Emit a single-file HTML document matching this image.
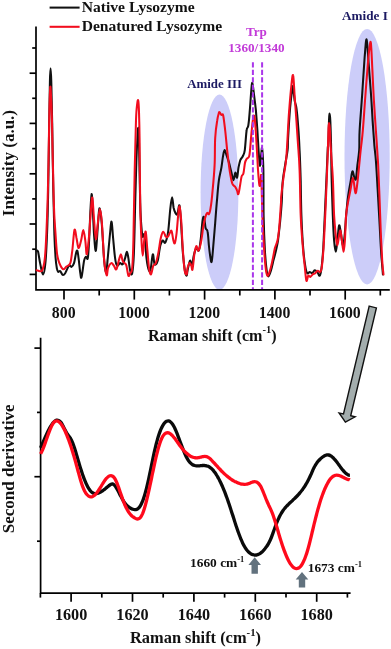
<!DOCTYPE html>
<html><head><meta charset="utf-8"><title>Raman spectra of lysozyme</title>
<style>
html,body{margin:0;padding:0;background:#fff;}
body{width:391px;height:649px;overflow:hidden;}
svg{display:block;font-family:"Liberation Serif",serif;font-weight:bold;}
.ax line,.ax path{stroke:#000;stroke-width:1.7;fill:none;}
.tl{font-size:15.8px;fill:#111;}
.at{font-size:16px;fill:#111;}
.lg{font-size:15.6px;fill:#111;}
.an{font-size:13.2px;}
.cv{fill:none;stroke-linejoin:round;stroke-linecap:round;}
</style></head>
<body>
<svg width="391" height="649" viewBox="0 0 391 649">
<rect width="391" height="649" fill="#fff"/>
<!-- highlight ellipses -->
<ellipse cx="219.5" cy="192.2" rx="18.9" ry="97.6" fill="#cccdf9"/>
<ellipse cx="367.1" cy="156.7" rx="22.6" ry="127.8" fill="#cccdf9"/>
<!-- top chart axes -->
<g class="ax">
<path d="M36 26.4V289.8H389.8"/>
<line x1="64.0" y1="289.8" x2="64.0" y2="299.6"/><line x1="99.2" y1="289.8" x2="99.2" y2="295.5"/><line x1="134.3" y1="289.8" x2="134.3" y2="299.6"/><line x1="169.4" y1="289.8" x2="169.4" y2="295.5"/><line x1="204.6" y1="289.8" x2="204.6" y2="299.6"/><line x1="239.8" y1="289.8" x2="239.8" y2="295.5"/><line x1="274.9" y1="289.8" x2="274.9" y2="299.6"/><line x1="310.0" y1="289.8" x2="310.0" y2="295.5"/><line x1="345.2" y1="289.8" x2="345.2" y2="299.6"/><line x1="380.3" y1="289.8" x2="380.3" y2="295.5"/><line x1="32.2" y1="48.0" x2="36" y2="48.0"/><line x1="29.6" y1="73.2" x2="36" y2="73.2"/><line x1="32.2" y1="98.3" x2="36" y2="98.3"/><line x1="29.6" y1="123.4" x2="36" y2="123.4"/><line x1="32.2" y1="148.6" x2="36" y2="148.6"/><line x1="29.6" y1="173.8" x2="36" y2="173.8"/><line x1="32.2" y1="198.9" x2="36" y2="198.9"/><line x1="29.6" y1="224.0" x2="36" y2="224.0"/><line x1="32.2" y1="249.2" x2="36" y2="249.2"/><line x1="29.6" y1="274.4" x2="36" y2="274.4"/>
</g>
<!-- top curves -->
<path class="cv" d="M36.6 250.6C36.8 250.8 37.5 249.7 38.1 251.8C38.7 253.9 39.3 259.3 40.1 263.1C40.9 266.9 42.2 274.6 43.1 274.4C44.0 274.2 44.9 268.6 45.5 262.0C46.1 255.4 46.5 247.0 47.0 235.0C47.5 223.0 47.9 207.5 48.2 190.0C48.6 172.5 48.8 148.0 49.1 130.0C49.4 112.0 49.6 92.3 49.9 82.0C50.1 71.7 50.4 68.3 50.6 68.3C50.8 68.3 51.0 71.7 51.3 82.0C51.6 92.3 52.0 112.0 52.3 130.0C52.6 148.0 52.9 172.5 53.3 190.0C53.6 207.5 54.0 223.7 54.4 235.0C54.8 246.3 55.2 252.4 55.6 258.0C56.0 263.6 56.5 266.3 56.9 268.6C57.4 271.0 57.6 271.5 58.2 271.9C58.7 272.3 59.4 270.7 60.2 271.2C61.0 271.7 61.9 274.6 62.7 274.9C63.6 275.3 64.2 274.7 65.2 273.2C66.3 271.6 67.9 266.7 69.0 265.6C70.0 264.6 70.7 267.3 71.5 266.9C72.3 266.5 73.1 265.8 74.0 263.1C75.0 260.4 76.2 248.9 77.3 250.6C78.3 252.2 79.6 268.8 80.3 273.2C81.0 277.6 80.9 279.0 81.6 276.9C82.2 274.8 83.4 264.0 84.1 260.6C84.8 257.3 85.2 257.3 85.8 256.8C86.5 256.4 87.3 260.8 87.8 258.1C88.4 255.4 88.5 251.2 89.1 240.5C89.7 229.8 90.8 194.9 91.6 194.0C92.4 193.2 93.4 226.1 94.1 235.5C94.8 244.9 95.3 252.2 95.9 250.6C96.5 248.9 97.3 232.5 97.9 225.4C98.5 218.4 98.8 208.8 99.4 208.3C100.0 207.9 100.9 214.2 101.7 222.9C102.5 231.6 103.4 252.2 104.2 260.6C104.9 269.0 105.6 273.2 106.2 273.2C106.7 273.2 106.9 267.3 107.5 260.6C108.2 253.9 109.4 239.5 110.1 233.0C110.7 226.5 111.1 220.8 111.6 221.7C112.1 222.5 112.5 231.9 113.1 238.0C113.7 244.1 114.4 253.5 115.1 258.1C115.7 262.7 116.2 264.8 117.1 265.6C117.9 266.5 119.2 263.3 120.1 263.1C121.0 262.9 121.8 265.2 122.6 264.4C123.5 263.5 124.4 260.2 125.1 258.1C125.8 256.0 126.3 251.8 126.9 251.8C127.4 251.8 127.8 254.9 128.4 258.1C128.9 261.2 129.5 268.1 130.2 270.7C130.8 273.2 131.5 276.1 132.2 273.2C132.8 270.2 133.4 264.8 133.9 253.1C134.4 241.3 134.8 218.3 135.2 202.8C135.6 187.3 136.0 171.4 136.4 160.1C136.8 148.8 137.3 140.4 137.6 135.0C137.9 129.6 138.0 127.7 138.2 128.0C138.4 128.3 138.6 124.5 138.9 137.0C139.2 149.5 139.8 187.7 140.2 202.8C140.6 218.0 141.0 222.3 141.5 227.9C141.9 233.6 142.3 235.7 142.7 236.7C143.1 237.8 143.6 233.6 144.0 234.2C144.4 234.8 144.8 236.5 145.2 240.5C145.6 244.5 145.9 253.1 146.5 258.1C147.1 263.1 148.3 269.0 149.0 270.7C149.7 272.3 150.1 270.9 150.8 268.1C151.4 265.4 152.2 255.2 152.8 254.3C153.4 253.5 153.8 261.4 154.3 263.1C154.8 264.8 155.2 264.8 155.8 264.4C156.4 264.0 157.0 263.7 157.8 260.6C158.5 257.5 159.5 248.9 160.3 245.5C161.1 242.2 162.1 240.9 162.8 240.5C163.6 240.1 164.2 243.2 164.8 243.0C165.5 242.8 166.0 241.3 166.6 239.2C167.2 237.2 167.7 235.7 168.3 230.5C169.0 225.2 169.7 213.4 170.4 207.8C171.0 202.3 171.6 197.3 172.1 197.3C172.7 197.3 173.1 205.2 173.6 207.8C174.2 210.4 174.7 211.8 175.4 212.9C176.0 213.9 176.7 215.4 177.4 214.1C178.1 212.9 178.8 204.3 179.4 205.3C180.0 206.4 180.3 212.4 180.9 220.4C181.5 228.4 182.2 244.7 182.9 253.1C183.6 261.4 184.3 266.9 184.9 270.7C185.6 274.4 186.3 275.7 186.7 275.7C187.1 275.7 187.0 273.2 187.5 270.7C188.1 268.1 189.3 261.4 190.0 260.6C190.8 259.8 191.4 266.5 192.0 265.6C192.7 264.8 193.1 258.5 193.8 255.6C194.5 252.6 195.5 248.9 196.3 248.0C197.1 247.2 198.1 251.8 198.8 250.6C199.5 249.3 199.9 245.5 200.6 240.5C201.2 235.5 202.0 224.3 202.6 220.4C203.2 216.5 203.6 216.1 204.1 217.4C204.6 218.6 205.0 225.6 205.6 227.9C206.2 230.3 207.1 228.8 207.6 231.7C208.2 234.6 208.5 241.5 208.9 245.5C209.3 249.5 209.7 252.9 210.1 255.6C210.6 258.3 211.1 263.1 211.6 261.9C212.1 260.6 212.6 254.5 213.1 248.0C213.7 241.5 214.5 231.3 215.2 222.9C215.8 214.5 216.5 204.9 217.2 197.8C217.8 190.7 218.2 185.2 218.9 180.2C219.6 175.2 220.7 171.8 221.4 167.6C222.1 163.5 222.6 158.0 223.2 155.1C223.7 152.1 224.2 150.1 224.7 150.1C225.2 150.1 225.7 153.0 226.5 155.1C227.2 157.2 228.1 159.7 229.0 162.6C229.8 165.5 230.7 169.7 231.5 172.7C232.2 175.6 232.9 180.2 233.5 180.2C234.1 180.2 234.7 173.1 235.3 172.7C235.8 172.2 236.5 178.5 237.0 177.7C237.6 176.9 238.0 170.6 238.5 167.6C239.1 164.7 239.6 162.0 240.3 160.1C241.0 158.2 242.0 158.0 242.8 156.3C243.5 154.7 244.2 154.4 244.8 150.1C245.4 145.7 246.0 134.6 246.6 130.5C247.1 126.4 247.8 128.8 248.3 125.5C248.9 122.1 249.4 115.8 249.8 110.4C250.3 105.0 250.7 97.4 251.1 92.8C251.5 88.2 251.8 82.3 252.3 82.8C252.8 83.2 253.5 90.7 254.1 95.3C254.7 99.9 255.3 104.5 255.9 110.4C256.4 116.3 256.9 123.8 257.4 130.5C257.8 137.2 258.2 144.7 258.6 150.6C259.0 156.5 259.5 164.8 259.9 165.7C260.3 166.5 260.8 158.6 261.1 155.6C261.5 152.7 261.8 145.6 262.1 148.1C262.5 150.6 263.1 159.5 263.4 170.7C263.6 181.9 263.4 202.1 263.6 215.4C263.9 228.7 264.4 241.3 264.9 250.6C265.4 259.8 266.1 266.3 266.7 270.7C267.2 275.0 267.7 276.4 268.4 276.4C269.1 276.4 270.1 273.3 270.9 270.7C271.8 268.0 272.6 264.0 273.4 260.6C274.3 257.3 275.2 253.9 276.0 250.6C276.7 247.2 277.3 245.1 278.0 240.5C278.6 235.9 279.3 229.2 280.0 222.9C280.6 216.6 281.3 209.5 281.7 202.8C282.2 196.1 282.0 189.0 282.6 182.7C283.1 176.4 284.2 170.6 285.1 165.1C285.9 159.7 287.1 154.6 287.6 150.1C288.1 145.5 287.7 145.1 288.1 138.1C288.5 131.1 289.4 115.9 290.1 107.9C290.8 100.0 291.6 93.9 292.1 90.4C292.6 86.8 292.7 84.9 293.1 86.6C293.5 88.3 294.1 96.8 294.6 100.4C295.2 104.0 295.8 103.8 296.4 107.9C297.0 112.1 297.6 118.4 298.1 125.5C298.7 132.6 299.2 141.4 299.6 150.7C300.1 159.9 300.4 170.0 300.7 180.8C300.9 191.6 301.0 204.2 301.4 215.4C301.8 226.6 302.5 239.7 303.2 248.0C303.8 256.4 304.5 261.4 305.2 265.6C305.8 269.8 306.4 272.1 307.2 273.2C307.9 274.2 308.9 271.9 309.7 271.9C310.5 271.9 311.4 273.5 312.2 273.2C313.0 272.9 313.9 270.4 314.7 270.2C315.6 269.9 316.4 271.0 317.2 271.9C318.1 272.8 319.0 276.3 319.7 275.7C320.5 275.1 320.9 272.7 321.5 268.1C322.1 263.5 322.7 256.8 323.3 248.0C323.8 239.2 324.2 227.1 324.8 215.4C325.3 203.7 326.0 189.0 326.5 177.7C327.0 166.4 327.5 152.9 327.8 147.5C328.1 142.2 328.1 150.1 328.3 145.6C328.5 141.1 328.8 125.9 329.0 120.5C329.3 115.1 329.3 113.5 329.5 113.5C329.8 113.5 330.1 115.1 330.3 120.5C330.6 125.9 330.8 136.1 331.1 145.6C331.3 155.2 331.3 166.1 331.6 177.7C331.9 189.3 332.4 204.9 332.8 215.4C333.2 225.8 333.6 234.4 334.1 240.5C334.6 246.6 335.3 251.8 335.8 251.8C336.4 251.8 336.8 244.9 337.3 240.5C337.9 236.1 338.5 226.7 339.1 225.4C339.7 224.2 340.2 229.6 340.9 233.0C341.5 236.3 342.2 245.1 342.9 245.5C343.5 245.9 344.1 240.5 344.6 235.5C345.2 230.5 345.6 221.7 346.1 215.4C346.7 209.1 347.2 203.2 347.9 197.8C348.6 192.3 349.6 187.1 350.4 182.7C351.2 178.3 351.7 172.2 352.4 171.4C353.1 170.6 353.8 176.4 354.4 177.7C355.0 178.9 355.4 181.0 355.9 178.9C356.4 176.9 356.9 169.9 357.4 165.1C358.0 160.3 358.8 155.8 359.2 150.1C359.6 144.3 359.1 139.7 359.6 130.7C360.1 121.6 361.3 107.6 362.1 95.5C362.9 83.3 363.9 67.1 364.6 57.8C365.4 48.5 365.9 38.6 366.6 39.4C367.3 40.3 367.9 53.9 368.6 62.8C369.3 71.7 370.2 83.3 370.9 93.0C371.6 102.6 372.1 111.8 372.6 120.6C373.2 129.4 373.9 139.0 374.4 145.7C375.0 152.4 375.4 153.4 375.9 160.8C376.5 168.2 377.1 180.3 377.7 190.3C378.3 200.2 378.8 209.9 379.4 220.4C380.0 230.9 380.6 244.1 381.2 253.1C381.8 262.1 382.7 270.9 382.9 274.4" stroke="#111" stroke-width="2.05"/>
<path class="cv" d="M36.6 270.2C37.2 270.3 39.1 271.3 40.1 271.2C41.1 271.0 41.8 272.0 42.6 269.4C43.5 266.8 44.4 264.6 45.1 255.6C45.9 246.6 46.7 226.3 47.1 215.4C47.6 204.4 47.6 200.9 47.9 190.0C48.2 179.1 48.5 163.3 48.7 150.0C49.0 136.7 49.1 120.5 49.4 110.0C49.7 99.5 50.0 88.0 50.3 86.7C50.6 85.4 51.0 96.1 51.3 102.0C51.6 107.9 51.8 112.3 52.0 122.0C52.2 131.7 52.5 147.8 52.8 160.0C53.1 172.2 53.4 185.8 53.6 195.0C53.9 204.2 54.0 208.3 54.3 215.0C54.6 221.7 55.2 228.9 55.6 235.0C56.0 241.1 56.4 247.4 56.8 251.5C57.2 255.6 57.6 257.2 58.2 259.5C58.8 261.8 59.4 263.6 60.3 265.2C61.1 266.8 62.3 269.1 63.3 269.3C64.3 269.5 65.3 267.5 66.5 266.5C67.7 265.5 69.3 265.8 70.3 263.1C71.2 260.5 71.5 256.1 72.3 250.6C73.0 245.0 73.8 232.0 74.5 229.9C75.2 227.9 75.9 235.0 76.5 238.0C77.2 241.0 77.8 247.6 78.5 248.0C79.3 248.5 80.3 243.5 81.1 240.5C81.9 237.5 82.6 229.9 83.3 229.9C84.0 229.9 84.7 236.4 85.3 240.5C85.9 244.6 86.2 255.2 86.8 254.3C87.5 253.5 88.4 242.8 89.1 235.5C89.8 228.1 90.3 216.6 90.9 210.4C91.4 204.1 91.8 196.1 92.4 197.8C92.9 199.5 93.5 213.5 94.1 220.4C94.7 227.3 95.3 238.8 95.9 239.2C96.5 239.7 97.2 227.9 97.9 222.9C98.6 217.9 99.2 209.1 99.9 209.1C100.6 209.1 101.2 214.3 101.9 222.9C102.6 231.5 103.4 251.9 104.2 260.6C105.0 269.3 106.0 273.9 106.7 275.2C107.3 276.4 107.3 270.2 108.0 268.1C108.8 266.1 110.3 263.5 111.3 263.1C112.3 262.7 113.0 264.6 113.8 265.6C114.7 266.7 115.5 270.2 116.3 269.4C117.2 268.6 118.1 263.1 118.8 260.6C119.6 258.1 120.2 254.3 120.9 254.3C121.5 254.3 122.0 259.1 122.6 260.6C123.2 262.1 124.0 262.3 124.6 263.1C125.3 264.0 125.8 263.5 126.4 265.6C127.0 267.7 127.8 274.4 128.4 275.7C129.0 276.9 129.5 274.4 130.2 273.2C130.8 271.9 131.6 273.6 132.2 268.1C132.7 262.7 133.0 256.8 133.4 240.5C133.8 224.2 134.2 190.2 134.7 170.2C135.1 150.1 135.6 131.0 136.0 120.0C136.4 109.0 136.8 107.2 137.2 104.0C137.6 100.8 137.9 99.2 138.2 100.5C138.5 101.8 138.8 105.4 139.0 112.0C139.2 118.6 139.4 124.9 139.6 140.0C139.8 155.1 139.9 186.1 140.2 202.8C140.5 219.6 141.0 231.7 141.5 240.5C141.9 249.3 142.3 255.6 142.7 255.6C143.2 255.6 143.7 244.5 144.2 240.5C144.7 236.5 145.2 230.5 145.7 231.7C146.2 233.0 146.7 242.0 147.2 248.0C147.8 254.1 148.4 263.7 149.0 268.1C149.6 272.5 150.3 274.8 151.0 274.4C151.7 274.0 152.5 267.5 153.3 265.6C154.1 263.7 154.9 265.2 155.8 263.1C156.6 261.0 157.5 257.3 158.3 253.1C159.1 248.9 160.0 241.5 160.8 238.0C161.6 234.4 162.5 231.9 163.3 231.7C164.2 231.5 165.1 235.9 165.8 236.7C166.6 237.6 167.2 237.4 167.8 236.7C168.5 236.1 169.2 233.9 169.8 233.0C170.5 232.0 171.0 229.7 171.6 231.0C172.2 232.2 172.8 238.5 173.4 240.5C173.9 242.5 174.3 244.3 174.9 243.0C175.4 241.8 176.0 238.0 176.6 233.0C177.2 227.9 177.9 217.3 178.4 212.9C178.9 208.5 179.2 205.3 179.6 206.6C180.1 207.8 180.6 213.1 181.2 220.4C181.7 227.7 182.3 242.2 182.9 250.6C183.5 258.9 184.0 266.7 184.7 270.7C185.3 274.6 186.2 274.8 186.7 274.4C187.2 274.0 187.0 270.0 187.5 268.1C188.0 266.3 188.9 263.5 189.5 263.1C190.2 262.7 190.8 264.6 191.3 265.6C191.8 266.7 192.0 271.5 192.5 269.4C193.1 267.3 193.9 257.0 194.5 253.1C195.2 249.2 195.7 246.4 196.3 246.0C196.9 245.6 197.5 250.2 198.1 250.6C198.6 250.9 199.0 249.7 199.6 248.0C200.1 246.4 200.7 243.9 201.3 240.5C201.9 237.2 202.5 231.7 203.1 227.9C203.7 224.2 204.4 220.4 205.1 217.9C205.8 215.4 206.5 213.5 207.1 212.9C207.7 212.2 208.3 215.0 208.9 214.1C209.5 213.3 210.0 211.8 210.6 207.8C211.3 203.9 212.0 197.4 212.6 190.3C213.3 183.1 214.2 173.8 214.6 165.1C215.1 156.4 214.7 145.5 215.2 138.0C215.6 130.6 216.5 124.6 217.2 120.5C217.8 116.3 218.5 114.3 218.9 112.9C219.3 111.6 219.3 112.1 219.7 112.4C220.1 112.7 220.8 114.4 221.4 114.9C222.0 115.4 222.6 112.8 223.2 115.4C223.8 118.0 224.5 124.6 225.2 130.5C225.9 136.4 226.5 143.9 227.2 150.6C228.0 157.3 228.9 165.3 229.7 170.7C230.6 176.1 231.3 180.5 232.2 183.3C233.2 186.0 234.5 185.9 235.3 187.0C236.0 188.2 236.5 189.1 237.0 190.3C237.5 191.4 237.8 194.8 238.3 194.2C238.8 193.6 239.4 189.3 239.9 186.4C240.4 183.5 241.0 178.7 241.6 176.5C242.2 174.3 242.8 175.7 243.4 173.5C244.0 171.3 244.4 165.6 244.9 163.2C245.4 160.8 245.9 160.1 246.6 159.0C247.3 157.9 248.5 158.3 249.1 156.5C249.7 154.7 249.8 152.3 250.2 148.2C250.6 144.0 251.1 136.3 251.6 131.6C252.1 126.9 252.5 122.6 252.9 119.9C253.3 117.2 253.7 115.0 254.1 115.6C254.5 116.2 254.8 118.4 255.2 123.3C255.6 128.2 256.2 137.4 256.6 144.9C257.1 152.4 257.5 161.7 257.9 168.1C258.3 174.5 258.8 180.1 259.1 183.1C259.4 186.1 259.6 186.3 259.9 185.8C260.2 185.3 260.5 181.5 260.7 180.0C260.9 178.5 261.0 171.1 261.3 177.0C261.6 182.9 262.0 204.8 262.4 215.4C262.8 226.0 263.1 232.1 263.6 240.5C264.1 248.9 264.8 259.8 265.4 265.6C266.0 271.5 266.7 274.8 267.4 275.7C268.2 276.5 269.1 273.2 269.9 270.7C270.8 268.1 271.6 264.4 272.4 260.6C273.3 256.8 274.1 251.4 274.9 248.0C275.8 244.7 276.8 243.9 277.5 240.5C278.2 237.2 278.6 234.2 279.2 227.9C279.8 221.7 280.6 208.3 281.0 202.8C281.3 197.4 280.8 199.9 281.3 195.3C281.8 190.7 283.0 181.5 283.8 175.2C284.7 168.9 285.5 167.5 286.3 157.6C287.2 147.6 288.0 127.5 288.8 115.5C289.7 103.4 290.6 92.0 291.4 85.3C292.1 78.6 292.6 73.6 293.1 75.3C293.7 77.0 294.1 87.8 294.6 95.4C295.2 102.9 295.8 112.1 296.4 120.5C297.0 128.9 297.6 137.3 298.1 145.6C298.7 154.0 299.2 159.1 299.6 170.8C300.1 182.4 300.2 202.9 300.7 215.4C301.2 227.8 302.0 237.2 302.7 245.5C303.3 253.9 304.0 259.8 304.7 265.6C305.3 271.5 305.8 279.0 306.4 280.7C307.0 282.4 307.6 276.3 308.2 275.7C308.8 275.1 309.4 277.1 310.2 276.9C311.0 276.7 311.9 275.1 312.7 274.4C313.6 273.8 314.4 273.8 315.2 273.2C316.1 272.5 316.9 270.9 317.7 270.7C318.6 270.4 319.5 272.7 320.3 271.9C321.0 271.1 321.4 270.9 322.0 265.6C322.6 260.4 323.4 251.0 324.0 240.5C324.6 230.0 325.2 215.4 325.8 202.8C326.3 190.3 326.9 174.7 327.3 165.1C327.7 155.6 327.8 151.8 328.0 145.6C328.2 139.4 328.4 131.8 328.5 128.0C328.7 124.3 328.8 123.0 329.0 123.0C329.3 123.0 329.5 124.3 329.8 128.0C330.1 131.8 330.1 137.4 330.6 145.6C331.1 153.9 332.2 166.1 332.8 177.7C333.4 189.3 333.6 205.7 334.1 215.4C334.6 225.0 335.3 230.5 335.8 235.5C336.4 240.5 336.8 245.5 337.3 245.5C337.9 245.5 338.6 238.0 339.1 235.5C339.6 233.0 339.9 229.6 340.4 230.5C340.8 231.3 341.3 236.9 341.9 240.5C342.4 244.1 343.1 251.8 343.6 251.8C344.1 251.8 344.5 246.6 344.9 240.5C345.3 234.4 345.6 221.7 346.1 215.4C346.6 209.1 347.2 207.0 347.9 202.8C348.6 198.6 349.6 194.4 350.4 190.3C351.2 186.1 352.2 177.7 352.9 177.7C353.7 177.7 354.4 187.7 354.9 190.3C355.4 192.8 355.5 194.0 355.9 192.8C356.3 191.5 356.9 187.3 357.4 182.7C358.0 178.1 358.6 171.0 359.2 165.1C359.8 159.3 360.3 153.3 361.0 147.5C361.6 141.8 362.1 139.3 362.8 130.7C363.6 122.0 364.5 106.7 365.4 95.5C366.2 84.3 367.2 71.4 367.9 63.3C368.6 55.3 369.1 50.6 369.6 47.2C370.1 43.9 370.4 39.4 370.9 43.2C371.4 47.1 371.9 60.8 372.4 70.4C372.9 79.9 373.3 90.5 373.9 100.5C374.5 110.6 375.2 120.6 375.9 130.7C376.6 140.7 377.5 154.2 377.9 160.8C378.3 167.4 378.1 163.1 378.4 170.2C378.7 177.2 379.3 191.9 379.7 202.8C380.1 213.7 380.5 225.8 380.9 235.5C381.4 245.1 381.8 254.1 382.2 260.6C382.6 267.1 383.2 272.1 383.5 274.4" stroke="#f20d1e" stroke-width="2.05"/>
<!-- Trp dashed lines -->
<g stroke="#aa36ea" stroke-width="2" stroke-dasharray="5.2 2.3" fill="none">
<line x1="252.9" y1="62.2" x2="252.9" y2="289"/>
<line x1="262.1" y1="62.2" x2="262.1" y2="289"/>
</g>
<!-- legend -->
<line x1="49.6" y1="7.6" x2="79.6" y2="7.6" stroke="#111" stroke-width="2.05"/>
<line x1="49.6" y1="26.8" x2="79.6" y2="26.8" stroke="#f20d1e" stroke-width="2.05"/>
<text class="lg" x="81.7" y="11.8">Native Lysozyme</text>
<text class="lg" x="81.7" y="30.8">Denatured Lysozyme</text>
<!-- annotations -->
<text class="an" x="214.6" y="88.3" text-anchor="middle" fill="#1c1a62" style="font-size:12.9px">Amide III</text>
<text class="an" x="365" y="19.6" text-anchor="middle" fill="#1c1a62">Amide I</text>
<text class="an" x="256.4" y="36.4" text-anchor="middle" fill="#c23ad8">Trp</text>
<text class="an" x="256.4" y="51.9" text-anchor="middle" fill="#c23ad8">1360/1340</text>
<!-- top axis text -->
<g class="tl"><text x="63.7" y="317.8" text-anchor="middle">800</text><text x="134.0" y="317.8" text-anchor="middle">1000</text><text x="204.3" y="317.8" text-anchor="middle">1200</text><text x="274.6" y="317.8" text-anchor="middle">1400</text><text x="344.9" y="317.8" text-anchor="middle">1600</text></g>
<text class="at" x="148" y="340.5" style="font-size:16.1px">Raman shift (cm<tspan dy="-7.5" font-size="10.5">-1</tspan><tspan dy="7.5">)</tspan></text>
<text class="at" transform="translate(14.0 163.1) rotate(-90)" text-anchor="middle" style="font-size:17px">Intensity (a.u.)</text>
<!-- connecting arrow -->
<path d="M369.2 306.1L376.4 307.9L350.7 415.8L355.1 416.8L345.4 422.2L339.1 413L343.5 414Z" fill="#a3adad" stroke="#111" stroke-width="1.4" stroke-linejoin="miter"/>
<!-- bottom chart axes -->
<g class="ax">
<path d="M40.6 337.8V593.2H350.6"/>
<line x1="40.4" y1="593.2" x2="40.4" y2="597.6"/><line x1="71.1" y1="593.2" x2="71.1" y2="601.8"/><line x1="101.8" y1="593.2" x2="101.8" y2="597.6"/><line x1="132.5" y1="593.2" x2="132.5" y2="601.8"/><line x1="163.2" y1="593.2" x2="163.2" y2="597.6"/><line x1="193.9" y1="593.2" x2="193.9" y2="601.8"/><line x1="224.6" y1="593.2" x2="224.6" y2="597.6"/><line x1="255.3" y1="593.2" x2="255.3" y2="601.8"/><line x1="286.0" y1="593.2" x2="286.0" y2="597.6"/><line x1="316.7" y1="593.2" x2="316.7" y2="601.8"/><line x1="347.4" y1="593.2" x2="347.4" y2="597.6"/><line x1="34.4" y1="348.1" x2="40.6" y2="348.1"/><line x1="37.0" y1="412.4" x2="40.6" y2="412.4"/><line x1="34.4" y1="476.7" x2="40.6" y2="476.7"/><line x1="37.0" y1="541.2" x2="40.6" y2="541.2"/>
</g>
<!-- bottom curves -->
<path class="cv" style="stroke-linecap:butt" d="M40.6 447.9C40.9 447.1 41.9 444.8 42.6 443.3C43.3 441.8 43.9 440.2 44.6 438.7C45.3 437.2 45.9 435.7 46.6 434.2C47.3 432.8 47.9 431.4 48.6 430.1C49.3 428.8 49.9 427.5 50.6 426.4C51.3 425.3 51.9 424.3 52.6 423.4C53.3 422.6 53.9 421.8 54.6 421.3C55.3 420.8 55.9 420.4 56.6 420.2C57.3 420.1 57.9 420.1 58.6 420.4C59.3 420.7 59.9 421.2 60.6 422.0C61.3 422.7 61.9 423.9 62.6 425.1C63.3 426.2 63.9 427.8 64.6 429.1C65.3 430.4 65.9 431.8 66.6 432.9C67.3 434.0 67.9 434.8 68.6 435.7C69.3 436.6 69.9 437.4 70.6 438.5C71.3 439.7 71.9 441.0 72.6 442.6C73.3 444.3 73.9 446.2 74.6 448.3C75.3 450.3 75.9 452.6 76.6 454.9C77.3 457.1 77.9 459.5 78.6 461.8C79.3 464.1 79.9 466.3 80.6 468.4C81.3 470.6 81.9 472.6 82.6 474.5C83.3 476.4 83.9 478.3 84.6 479.9C85.3 481.6 85.9 483.2 86.6 484.6C87.3 486.0 87.9 487.3 88.6 488.3C89.3 489.4 89.9 490.4 90.6 491.1C91.3 491.8 91.9 492.4 92.6 492.8C93.3 493.2 93.9 493.5 94.6 493.6C95.3 493.7 95.9 493.7 96.6 493.6C97.3 493.5 97.9 493.3 98.6 493.1C99.3 492.8 99.9 492.4 100.6 492.1C101.3 491.7 101.9 491.2 102.6 490.8C103.3 490.3 103.9 489.8 104.6 489.3C105.3 488.8 105.9 488.2 106.6 487.7C107.3 487.1 107.9 486.6 108.6 486.0C109.3 485.5 109.9 484.9 110.6 484.5C111.3 484.1 111.9 483.8 112.6 483.9C113.3 484.1 113.9 484.6 114.6 485.4C115.3 486.1 115.9 487.3 116.6 488.4C117.3 489.5 117.9 490.7 118.6 492.0C119.3 493.2 119.9 494.6 120.6 495.8C121.3 497.1 121.9 498.3 122.6 499.5C123.3 500.7 123.9 501.8 124.6 502.7C125.3 503.7 125.9 504.5 126.6 505.2C127.3 505.9 127.9 506.4 128.6 506.9C129.3 507.4 129.9 507.8 130.6 508.2C131.3 508.6 131.9 508.9 132.6 509.2C133.3 509.4 133.9 509.6 134.6 509.6C135.3 509.7 135.9 509.6 136.6 509.4C137.3 509.1 137.9 508.8 138.6 508.1C139.3 507.5 139.9 506.6 140.6 505.4C141.3 504.3 141.9 502.8 142.6 501.1C143.3 499.4 143.9 497.4 144.6 495.2C145.3 493.0 145.9 490.5 146.6 487.9C147.3 485.2 147.9 482.3 148.6 479.3C149.3 476.3 149.9 473.0 150.6 469.8C151.3 466.6 151.9 463.2 152.6 460.0C153.3 456.9 153.9 453.7 154.6 450.7C155.3 447.8 155.9 445.0 156.6 442.5C157.3 440.0 157.9 437.7 158.6 435.6C159.3 433.5 159.9 431.7 160.6 430.0C161.3 428.4 161.9 427.0 162.6 425.8C163.3 424.6 163.9 423.6 164.6 422.8C165.3 422.1 165.9 421.6 166.6 421.2C167.3 420.9 167.9 420.8 168.6 420.9C169.3 421.1 169.9 421.4 170.6 422.0C171.3 422.5 171.9 423.3 172.6 424.3C173.3 425.3 173.9 426.5 174.6 427.8C175.3 429.2 175.9 430.8 176.6 432.4C177.3 434.0 177.9 435.8 178.6 437.6C179.3 439.3 179.9 441.2 180.6 442.9C181.3 444.7 181.9 446.5 182.6 448.2C183.3 449.9 183.9 451.6 184.6 453.1C185.3 454.7 185.9 456.1 186.6 457.4C187.3 458.7 187.9 459.8 188.6 460.8C189.3 461.7 189.9 462.5 190.6 463.1C191.3 463.8 191.9 464.3 192.6 464.7C193.3 465.1 193.9 465.3 194.6 465.5C195.3 465.7 195.9 465.8 196.6 465.9C197.3 465.9 197.9 465.9 198.6 465.9C199.3 465.8 199.9 465.8 200.6 465.7C201.3 465.6 201.9 465.6 202.6 465.5C203.3 465.5 203.9 465.4 204.6 465.5C205.3 465.5 205.9 465.6 206.6 465.8C207.3 465.9 207.9 466.2 208.6 466.5C209.3 466.9 209.9 467.3 210.6 467.9C211.3 468.4 211.9 469.0 212.6 469.7C213.3 470.5 213.9 471.3 214.6 472.2C215.3 473.0 215.9 474.0 216.6 475.1C217.3 476.1 217.9 477.3 218.6 478.5C219.3 479.7 219.9 481.1 220.6 482.4C221.3 483.8 221.9 485.3 222.6 486.8C223.3 488.4 223.9 490.0 224.6 491.7C225.3 493.4 225.9 495.1 226.6 497.0C227.3 498.8 227.9 500.7 228.6 502.7C229.3 504.6 229.9 506.7 230.6 508.7C231.3 510.8 231.9 512.9 232.6 514.9C233.3 517.0 233.9 519.1 234.6 521.2C235.3 523.2 235.9 525.3 236.6 527.2C237.3 529.2 237.9 531.2 238.6 533.0C239.3 534.8 239.9 536.6 240.6 538.3C241.3 539.9 241.9 541.5 242.6 542.9C243.3 544.3 243.9 545.5 244.6 546.7C245.3 547.8 245.9 548.8 246.6 549.7C247.3 550.6 247.9 551.3 248.6 552.0C249.3 552.7 249.9 553.2 250.6 553.6C251.3 554.1 251.9 554.4 252.6 554.6C253.3 554.9 253.9 555.0 254.6 555.1C255.3 555.1 255.9 555.1 256.6 555.0C257.3 554.8 257.9 554.6 258.6 554.3C259.3 554.0 259.9 553.6 260.6 553.1C261.3 552.6 261.9 552.0 262.6 551.4C263.3 550.7 263.9 550.0 264.6 549.2C265.3 548.3 265.9 547.4 266.6 546.5C267.3 545.5 267.9 544.5 268.6 543.3C269.3 542.1 269.9 540.8 270.6 539.3C271.3 537.7 271.9 535.9 272.6 534.1C273.3 532.3 273.9 530.3 274.6 528.5C275.3 526.7 275.9 524.8 276.6 523.2C277.3 521.5 277.9 519.9 278.6 518.5C279.3 517.0 279.9 515.7 280.6 514.5C281.3 513.3 281.9 512.2 282.6 511.2C283.3 510.2 283.9 509.3 284.6 508.5C285.3 507.7 285.9 506.9 286.6 506.2C287.3 505.5 287.9 504.8 288.6 504.2C289.3 503.5 289.9 502.9 290.6 502.3C291.3 501.7 291.9 501.0 292.6 500.4C293.3 499.8 293.9 499.1 294.6 498.5C295.3 497.8 295.9 497.2 296.6 496.5C297.3 495.8 297.9 495.1 298.6 494.3C299.3 493.6 299.9 492.8 300.6 492.0C301.3 491.2 301.9 490.3 302.6 489.4C303.3 488.5 303.9 487.5 304.6 486.5C305.3 485.4 305.9 484.3 306.6 483.2C307.3 482.0 307.9 480.8 308.6 479.5C309.3 478.2 309.9 476.8 310.6 475.3C311.3 473.9 311.9 472.2 312.6 470.7C313.3 469.3 313.9 467.7 314.6 466.5C315.3 465.2 315.9 464.1 316.6 463.2C317.3 462.2 317.9 461.5 318.6 460.7C319.3 460.0 319.9 459.3 320.6 458.7C321.3 458.1 321.9 457.5 322.6 457.0C323.3 456.5 323.9 456.1 324.6 455.7C325.3 455.4 325.9 455.2 326.6 455.0C327.3 454.9 327.9 454.9 328.6 455.0C329.3 455.1 329.9 455.4 330.6 455.8C331.3 456.1 331.9 456.7 332.6 457.3C333.3 457.9 333.9 458.6 334.6 459.3C335.3 460.1 335.9 460.9 336.6 461.8C337.3 462.7 337.9 463.6 338.6 464.5C339.3 465.4 339.9 466.3 340.6 467.2C341.3 468.1 341.9 469.0 342.6 469.8C343.3 470.6 343.9 471.4 344.6 472.1C345.3 472.8 345.9 473.4 346.6 473.9C347.3 474.4 348.1 474.9 348.6 475.1C349.2 475.4 349.7 475.4 349.9 475.4" stroke="#0a0a0a" stroke-width="3.3"/>
<path class="cv" style="stroke-linecap:butt" d="M40.6 453.9C40.9 453.2 41.9 451.3 42.6 449.8C43.3 448.2 43.9 446.5 44.6 444.7C45.3 442.9 45.9 440.9 46.6 439.0C47.3 437.1 47.9 435.2 48.6 433.4C49.3 431.6 49.9 429.8 50.6 428.3C51.3 426.8 51.9 425.3 52.6 424.2C53.3 423.1 53.9 422.2 54.6 421.7C55.3 421.1 55.9 420.9 56.6 420.9C57.3 420.8 57.9 421.1 58.6 421.6C59.3 422.0 59.9 422.7 60.6 423.5C61.3 424.3 61.9 425.3 62.6 426.4C63.3 427.5 63.9 428.8 64.6 430.1C65.3 431.5 65.9 433.0 66.6 434.6C67.3 436.2 67.9 437.9 68.6 439.7C69.3 441.5 69.9 443.5 70.6 445.5C71.3 447.5 71.9 449.5 72.6 451.7C73.3 453.9 73.9 456.1 74.6 458.5C75.3 460.8 75.9 463.3 76.6 465.7C77.3 468.2 77.9 470.7 78.6 473.1C79.3 475.5 79.9 478.0 80.6 480.2C81.3 482.4 81.9 484.5 82.6 486.3C83.3 488.1 83.9 489.6 84.6 491.0C85.3 492.3 85.9 493.3 86.6 494.2C87.3 495.0 87.9 495.7 88.6 496.1C89.3 496.5 89.9 496.8 90.6 496.8C91.3 496.9 91.9 496.7 92.6 496.5C93.3 496.2 93.9 495.7 94.6 495.2C95.3 494.6 95.9 493.9 96.6 493.1C97.3 492.3 97.9 491.3 98.6 490.3C99.3 489.3 99.9 488.2 100.6 487.1C101.3 486.1 101.9 484.9 102.6 483.9C103.3 482.8 103.9 481.7 104.6 480.8C105.3 479.9 105.9 478.9 106.6 478.2C107.3 477.5 107.9 476.8 108.6 476.4C109.3 476.0 109.9 475.7 110.6 475.7C111.3 475.6 111.9 475.8 112.6 476.2C113.3 476.7 113.9 477.3 114.6 478.3C115.3 479.3 115.9 480.7 116.6 482.2C117.3 483.7 117.9 485.6 118.6 487.4C119.3 489.3 119.9 491.3 120.6 493.3C121.3 495.2 121.9 497.2 122.6 499.0C123.3 500.9 123.9 502.6 124.6 504.2C125.3 505.7 125.9 507.2 126.6 508.5C127.3 509.8 127.9 511.0 128.6 512.0C129.3 513.0 129.9 513.9 130.6 514.6C131.3 515.4 131.9 515.9 132.6 516.5C133.3 517.0 133.9 517.5 134.6 517.9C135.3 518.3 135.9 518.7 136.6 518.9C137.3 519.0 137.9 519.1 138.6 518.8C139.3 518.5 139.9 518.1 140.6 517.2C141.3 516.3 141.9 515.1 142.6 513.6C143.3 512.0 143.9 510.0 144.6 507.8C145.3 505.6 145.9 503.1 146.6 500.4C147.3 497.8 147.9 494.9 148.6 491.9C149.3 488.9 149.9 485.7 150.6 482.6C151.3 479.4 151.9 476.2 152.6 473.0C153.3 469.9 153.9 466.7 154.6 463.6C155.3 460.6 155.9 457.6 156.6 454.9C157.3 452.1 157.9 449.5 158.6 447.2C159.3 444.9 159.9 442.8 160.6 441.1C161.3 439.3 161.9 437.9 162.6 436.7C163.3 435.6 163.9 434.7 164.6 434.1C165.3 433.5 165.9 433.1 166.6 432.9C167.3 432.7 167.9 432.7 168.6 432.9C169.3 433.1 169.9 433.5 170.6 434.0C171.3 434.4 171.9 435.1 172.6 435.8C173.3 436.5 173.9 437.3 174.6 438.2C175.3 439.0 175.9 440.0 176.6 440.9C177.3 441.9 177.9 442.9 178.6 443.8C179.3 444.8 179.9 445.7 180.6 446.6C181.3 447.5 181.9 448.3 182.6 449.1C183.3 449.9 183.9 450.7 184.6 451.4C185.3 452.1 185.9 452.7 186.6 453.3C187.3 453.9 187.9 454.4 188.6 454.9C189.3 455.4 189.9 455.8 190.6 456.2C191.3 456.5 191.9 456.8 192.6 457.1C193.3 457.3 193.9 457.5 194.6 457.6C195.3 457.8 195.9 457.8 196.6 457.8C197.3 457.8 197.9 457.7 198.6 457.6C199.3 457.5 199.9 457.3 200.6 457.2C201.3 457.0 201.9 456.8 202.6 456.7C203.3 456.6 203.9 456.4 204.6 456.4C205.3 456.4 205.9 456.5 206.6 456.7C207.3 456.9 207.9 457.2 208.6 457.6C209.3 458.0 209.9 458.6 210.6 459.2C211.3 459.9 211.9 460.6 212.6 461.3C213.3 462.0 213.9 462.7 214.6 463.4C215.3 464.2 215.9 464.9 216.6 465.7C217.3 466.4 217.9 467.1 218.6 467.9C219.3 468.6 219.9 469.3 220.6 470.0C221.3 470.7 221.9 471.4 222.6 472.1C223.3 472.7 223.9 473.4 224.6 474.0C225.3 474.6 225.9 475.2 226.6 475.8C227.3 476.4 227.9 476.9 228.6 477.4C229.3 477.9 229.9 478.4 230.6 478.9C231.3 479.3 231.9 479.8 232.6 480.2C233.3 480.6 233.9 481.0 234.6 481.4C235.3 481.7 235.9 482.0 236.6 482.3C237.3 482.6 237.9 482.9 238.6 483.2C239.3 483.4 239.9 483.6 240.6 483.8C241.3 484.0 241.9 484.1 242.6 484.2C243.3 484.3 243.9 484.4 244.6 484.3C245.3 484.3 245.9 484.3 246.6 484.2C247.3 484.0 247.9 483.8 248.6 483.6C249.3 483.4 249.9 483.0 250.6 482.8C251.3 482.5 251.9 482.2 252.6 482.0C253.3 481.9 253.9 481.7 254.6 481.7C255.3 481.7 255.9 481.8 256.6 482.0C257.3 482.3 257.9 482.8 258.6 483.5C259.3 484.2 259.9 485.1 260.6 486.2C261.3 487.4 261.9 488.9 262.6 490.4C263.3 492.0 263.9 493.7 264.6 495.4C265.3 497.1 265.9 498.8 266.6 500.4C267.3 502.0 267.9 503.4 268.6 504.9C269.3 506.3 269.9 507.6 270.6 509.1C271.3 510.6 271.9 512.1 272.6 513.9C273.3 515.7 273.9 517.6 274.6 519.7C275.3 521.8 275.9 524.0 276.6 526.3C277.3 528.5 277.9 530.9 278.6 533.2C279.3 535.4 279.9 537.7 280.6 539.8C281.3 541.9 281.9 544.0 282.6 546.0C283.3 547.9 283.9 549.8 284.6 551.5C285.3 553.3 285.9 555.0 286.6 556.5C287.3 558.0 287.9 559.4 288.6 560.7C289.3 562.0 289.9 563.1 290.6 564.1C291.3 565.1 291.9 565.9 292.6 566.6C293.3 567.3 293.9 567.8 294.6 568.1C295.3 568.5 295.9 568.7 296.6 568.6C297.3 568.6 297.9 568.4 298.6 568.0C299.3 567.6 299.9 567.0 300.6 566.3C301.3 565.5 301.9 564.5 302.6 563.3C303.3 562.1 303.9 560.7 304.6 559.1C305.3 557.5 305.9 555.6 306.6 553.6C307.3 551.5 307.9 549.2 308.6 546.8C309.3 544.4 309.9 541.7 310.6 538.9C311.3 536.2 311.9 533.3 312.6 530.5C313.3 527.7 313.9 524.8 314.6 522.1C315.3 519.4 315.9 516.7 316.6 514.2C317.3 511.6 317.9 509.2 318.6 506.9C319.3 504.6 319.9 502.4 320.6 500.3C321.3 498.3 321.9 496.3 322.6 494.5C323.3 492.7 323.9 491.0 324.6 489.4C325.3 487.8 325.9 486.4 326.6 485.1C327.3 483.8 327.9 482.6 328.6 481.5C329.3 480.4 329.9 479.5 330.6 478.7C331.3 477.9 331.9 477.3 332.6 476.7C333.3 476.2 333.9 475.8 334.6 475.6C335.3 475.3 335.9 475.2 336.6 475.2C337.3 475.2 337.9 475.3 338.6 475.4C339.3 475.5 339.9 475.8 340.6 476.0C341.3 476.3 341.9 476.6 342.6 477.0C343.3 477.3 343.9 477.6 344.6 478.0C345.3 478.3 345.9 478.6 346.6 478.9C347.3 479.2 348.1 479.4 348.6 479.6C349.2 479.7 349.7 479.7 349.9 479.8" stroke="#ff0a1c" stroke-width="3.3"/>
<!-- peak markers -->
<g fill="#62727e"><path d="M254.7 557.3L261.0 564.9L257.9 564.9L257.9 573.8L251.5 573.8L251.5 564.9L248.4 564.9Z"/><path d="M302.0 572.0L308.3 579.6L305.2 579.6L305.2 587.4L298.8 587.4L298.8 579.6L295.7 579.6Z"/></g>
<text x="190" y="567" font-size="13.4" fill="#111">1660 cm<tspan dy="-5" font-size="8.5">-1</tspan></text>
<text x="307.7" y="572" font-size="13.4" fill="#111">1673 cm<tspan dy="-5" font-size="8.5">-1</tspan></text>
<!-- bottom axis text -->
<g class="tl" style="font-size:16.2px"><text x="71.1" y="619.5" text-anchor="middle">1600</text><text x="132.5" y="619.5" text-anchor="middle">1620</text><text x="193.9" y="619.5" text-anchor="middle">1640</text><text x="255.3" y="619.5" text-anchor="middle">1660</text><text x="316.7" y="619.5" text-anchor="middle">1680</text></g>
<text class="at" x="130" y="643.4" style="font-size:16.4px">Raman shift (cm<tspan dy="-7.5" font-size="10.8">-1</tspan><tspan dy="7.5">)</tspan></text>
<text class="at" transform="translate(13.8 468.8) rotate(-90)" text-anchor="middle" style="font-size:17px">Second derivative</text>
</svg>
</body></html>
